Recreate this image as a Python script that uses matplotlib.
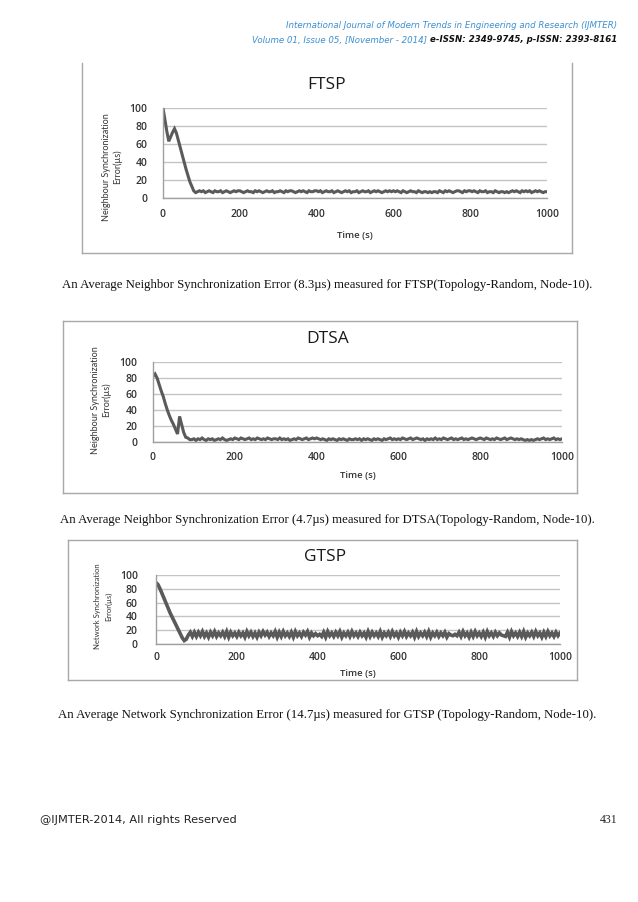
import numpy as np
import matplotlib
matplotlib.use("Agg")
import matplotlib.pyplot as plt
from matplotlib.lines import Line2D

W, H = 638, 902

# ---------------- data ----------------
time_step_s = 5
x_ticks = [0, 200, 400, 600, 800, 1000]
y_ticks = [0, 20, 40, 60, 80, 100]

ftsp_error = [
    100, 87, 74, 63, 68, 73, 77, 72, 64, 56, 48, 40, 32, 25, 18, 13, 8, 6, 7, 8,
    7, 8, 6, 7, 8, 7, 6, 8, 7, 7, 8, 6, 7, 8, 7, 6, 7, 8, 7, 8,
    8, 7, 6, 7, 8, 7, 7, 6, 8, 7, 8, 7, 6, 7, 8, 7, 7, 8, 6, 7,
    7, 8, 7, 6, 8, 7, 8, 8, 7, 6, 7, 8, 7, 8, 7, 6, 8, 7, 7, 8,
    8, 7, 8, 6, 7, 8, 7, 7, 8, 6, 7, 8, 7, 6, 7, 8, 7, 8, 6, 7,
    7, 8, 6, 7, 8, 7, 7, 8, 6, 7, 8, 7, 8, 7, 6, 7, 8, 7, 8, 7,
    8, 7, 8, 7, 6, 8, 7, 6, 7, 8, 7, 7, 6, 8, 7, 6, 7, 7, 6, 7,
    6, 7, 7, 6, 8, 7, 6, 8, 7, 8, 7, 6, 7, 8, 8, 7, 6, 8, 7, 8,
    8, 7, 8, 7, 6, 8, 7, 7, 8, 6, 7, 7, 6, 8, 7, 6, 7, 7, 6, 7,
    6, 7, 8, 7, 8, 7, 6, 8, 7, 8, 7, 8, 6, 7, 8, 7, 8, 7, 6, 7,
    7,
]

dtsa_error = [
    82, 85, 80, 72, 64, 57, 48, 40, 33, 27, 22, 16, 10, 32, 22, 12, 6, 5, 3, 3,
    4, 2, 4, 3, 5, 3, 2, 4, 3, 4, 2, 3, 4, 3, 5, 3, 2, 3, 4, 3,
    5, 4, 3, 5, 4, 3, 4, 5, 3, 4, 3, 5, 4, 3, 4, 3, 5, 4, 3, 4,
    4, 3, 5, 3, 4, 3, 4, 2, 3, 4, 3, 5, 4, 3, 4, 5, 3, 4, 5, 4,
    5, 4, 3, 4, 3, 2, 4, 3, 4, 3, 2, 4, 3, 4, 3, 2, 4, 3, 3, 4,
    3, 4, 2, 4, 3, 4, 3, 2, 4, 3, 4, 3, 2, 4, 3, 4, 5, 3, 4, 3,
    4, 3, 5, 4, 3, 4, 5, 3, 4, 5, 4, 3, 4, 2, 4, 3, 4, 3, 5, 3,
    4, 3, 5, 4, 3, 4, 5, 3, 4, 3, 4, 5, 3, 4, 3, 4, 5, 4, 3, 4,
    5, 4, 3, 5, 4, 3, 4, 3, 5, 4, 3, 4, 5, 3, 4, 5, 4, 3, 4, 3,
    4, 3, 2, 3, 2, 3, 2, 3, 4, 3, 4, 5, 3, 4, 3, 4, 5, 3, 4, 3,
    4,
]

gtsp_error = [
    89, 86, 80, 73, 66, 59, 52, 45, 39, 33, 27, 21, 15, 9, 5, 7, 13, 17, 11, 17,
    11, 17, 12, 18, 11, 16, 10, 17, 12, 18, 11, 16, 12, 17, 11, 18, 10, 17, 12, 16,
    11, 17, 12, 16, 10, 18, 12, 17, 11, 16, 10, 17, 12, 18, 13, 17, 11, 16, 12, 18,
    10, 17, 11, 18, 12, 16, 11, 17, 10, 18, 12, 16, 11, 17, 13, 18, 10, 16, 12, 15,
    12, 14, 11, 17, 10, 18, 12, 16, 11, 17, 12, 18, 10, 16, 12, 17, 11, 18, 12, 16,
    11, 17, 12, 16, 10, 18, 11, 17, 12, 16, 11, 18, 10, 16, 12, 17, 11, 18, 12, 16,
    10, 17, 12, 18, 11, 16, 12, 17, 10, 18, 11, 16, 12, 17, 11, 18, 10, 16, 12, 17,
    11, 16, 12, 17, 10, 15, 13, 12, 14, 12, 17, 11, 18, 12, 16, 10, 17, 11, 18, 12,
    16, 11, 17, 10, 18, 12, 16, 11, 17, 12, 16, 13, 12, 11, 17, 10, 18, 12, 16, 11,
    17, 11, 18, 10, 16, 12, 17, 11, 18, 12, 16, 10, 17, 11, 18, 12, 16, 11, 17, 12,
    16,
]

titles = ["FTSP", "DTSA", "GTSP"]
ylabels = ["Neighbour Synchronization\nError(\u00b5s)",
           "Neighbour Synchronization\nError(\u00b5s)",
           "Network Synchronization\nError(\u00b5s)"]
captions = [
    "An Average Neighbor Synchronization Error (8.3\u00b5s) measured for FTSP(Topology-Random, Node-10).",
    "An Average Neighbor Synchronization Error (4.7\u00b5s) measured for DTSA(Topology-Random, Node-10).",
    "An Average Network Synchronization Error (14.7\u00b5s) measured for GTSP (Topology-Random, Node-10).",
]
series = [ftsp_error, dtsa_error, gtsp_error]

# ---------------- layout (pixels) ----------------
plot_areas = [(163, 547, 108, 198), (153, 562, 362, 442), (156, 560, 575, 644)]
frames = [(82, 572, 63, 253, False), (63, 577, 321, 493, True), (68, 577, 540, 680, True)]
title_pos = [(327, 85), (328, 339), (325, 557)]
xlabel_pos = [(355, 235), (358, 476), (358, 673)]
ylabel_pos = [(112, 167), (101, 400), (103, 606)]
caption_y = [285, 520, 715]
tick_pads = [(11, 8), (11, 7), (13, 6)]
line_widths = [2.2, 2.2, 2.6]

fig = plt.figure(figsize=(W / 100, H / 100), dpi=100)
fig.patch.set_facecolor("white")


def fx(x):
    return x / W


def fy(y):
    return 1 - y / H


tick_font = "Open Sans"
line_col = "#5a5a5a"
grid_col = "#c4c4c4"
frame_col = "#a8a8a8"

for i in range(3):
    x0, x1, yt, yb = plot_areas[i]
    ax = fig.add_axes([fx(x0), fy(yb), (x1 - x0) / W, (yb - yt) / H])
    t = np.arange(len(series[i])) * time_step_s
    ax.plot(t, series[i], color=line_col, lw=line_widths[i], solid_joinstyle="miter")
    ax.set_xlim(0, 1000)
    ax.set_ylim(0, 100)
    ax.set_xticks(x_ticks)
    ax.set_yticks(y_ticks)
    ax.tick_params(length=0, labelsize=7.5, colors="#333333")
    ax.tick_params(axis="y", pad=tick_pads[i][0])
    ax.tick_params(axis="x", pad=tick_pads[i][1])
    for lab in ax.get_xticklabels() + ax.get_yticklabels():
        lab.set_fontfamily(tick_font)
        lab.set_fontweight("semibold")
    ax.grid(axis="y", color=grid_col, lw=1.0)
    ax.set_axisbelow(True)
    for s in ["top", "right"]:
        ax.spines[s].set_visible(False)
    for s in ["left", "bottom"]:
        ax.spines[s].set_color("#a0a0a0")
        ax.spines[s].set_linewidth(1.0)
    ax.patch.set_alpha(0)

    # chart frame
    l, r, tp, bt, has_top = frames[i]
    segs = [((l, l), (tp, bt)), ((r, r), (tp, bt)), ((l, r), (bt, bt))]
    if has_top:
        segs.append(((l, r), (tp, tp)))
    for xs, ys in segs:
        fig.add_artist(Line2D([fx(v) for v in xs], [fy(v) for v in ys],
                              transform=fig.transFigure, color=frame_col, lw=1.0))

    tx, ty = title_pos[i]
    fig.text(fx(tx), fy(ty), titles[i], ha="center", va="center",
             fontsize=12.5, family=tick_font, color="#1a1a1a")
    lx, ly = xlabel_pos[i]
    fig.text(fx(lx), fy(ly), "Time (s)", ha="center", va="center",
             fontsize=6.8, family=tick_font, fontweight="semibold", color="#333333")
    yx, yy = ylabel_pos[i]
    if i < 2:
        fig.text(fx(yx), fy(yy), ylabels[i], ha="center", va="center", rotation=90,
                 multialignment="center", fontsize=6.5, family=["Lato", "DejaVu Sans"],
                 color="#333333", linespacing=1.3)
    else:
        fig.text(fx(yx), fy(yy), ylabels[i], ha="center", va="center", rotation=90,
                 multialignment="center", fontsize=5.5,
                 family=["Lato", "DejaVu Sans"],
                 color="#333333", linespacing=1.7)

    fig.text(fx(327), fy(caption_y[i]), captions[i], ha="center", va="center",
             fontsize=9.2, family="Liberation Serif", color="#111111")

# header
blue = "#3d8fd1"
fig.text(fx(617), fy(25), "International Journal of Modern Trends in Engineering and Research (IJMTER)",
         ha="right", va="center", fontsize=6.2, style="italic", color=blue, family="DejaVu Sans")
bold_txt = fig.text(fx(617), fy(40), "e-ISSN: 2349-9745, p-ISSN: 2393-8161",
                    ha="right", va="center", fontsize=6.2, style="italic", fontweight="bold",
                    color="#111111", family="DejaVu Sans")
fig.canvas.draw()
bb = bold_txt.get_window_extent()
fig.text((bb.x0 - 3) / W, fy(40), "Volume 01, Issue 05, [November - 2014]",
         ha="right", va="center", fontsize=6.2, style="italic", color=blue, family="DejaVu Sans")

# footer
fig.text(fx(40), fy(820), "@IJMTER-2014, All rights Reserved", ha="left", va="center",
         fontsize=8.2, family="DejaVu Sans", color="#222222")
fig.text(fx(617), fy(820), "431", ha="right", va="center",
         fontsize=8.5, family="Liberation Serif", color="#222222")

fig.savefig("out.png", dpi=100)
